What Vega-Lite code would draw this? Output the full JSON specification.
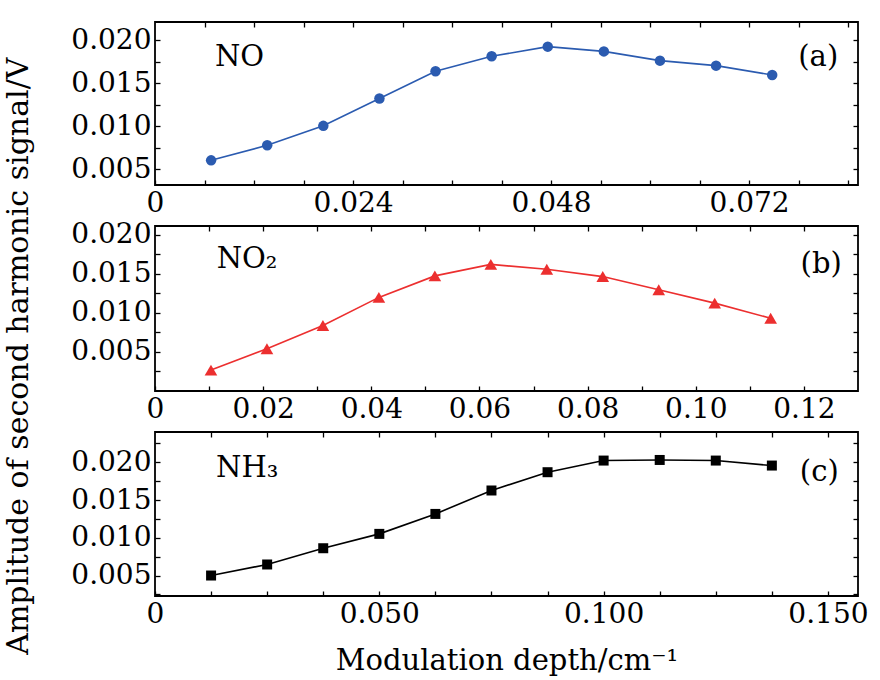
{
  "$schema": "https://vega.github.io/schema/vega-lite/v6.json",
  "background": "white",
  "padding": {"left": 3, "top": 20, "right": 2, "bottom": 2},
  "title": {
    "text": "Amplitude of second harmonic signal/V",
    "orient": "left",
    "anchor": "middle",
    "font": "DejaVu Serif",
    "fontSize": 30,
    "fontWeight": "normal",
    "color": "black",
    "offset": 36,
    "dx": -8
  },
  "spacing": 41,
  "bounds": "flush",
  "vconcat": [
    {
      "width": 703,
      "height": 163,
      "data": {"values": [
        {"depth": 0.0068, "amp": 0.00606},
        {"depth": 0.0136, "amp": 0.00780},
        {"depth": 0.0204, "amp": 0.01006},
        {"depth": 0.0272, "amp": 0.01323},
        {"depth": 0.0340, "amp": 0.01638},
        {"depth": 0.0408, "amp": 0.01812},
        {"depth": 0.0476, "amp": 0.01924},
        {"depth": 0.0544, "amp": 0.01869},
        {"depth": 0.0612, "amp": 0.01762},
        {"depth": 0.0680, "amp": 0.01704},
        {"depth": 0.0748, "amp": 0.01596}
      ]},
      "layer": [
        {
          "mark": {"type": "line", "color": "#2b5bb0", "strokeWidth": 1.6},
          "encoding": {
            "x": {"field": "depth", "type": "quantitative",
              "scale": {"domain": [0, 0.0852], "nice": false, "zero": false},
              "axis": {"orient": "bottom", "title": null,
                "values": [0, 0.006, 0.012, 0.018, 0.024, 0.030, 0.036, 0.042, 0.048, 0.054, 0.060, 0.066, 0.072, 0.078, 0.084],
                "labelExpr": "datum.value == 0 ? '0' : (abs(datum.value / 0.024 - round(datum.value / 0.024)) < 0.001 ? format(datum.value, '.3f') : '')"}},
            "y": {"field": "amp", "type": "quantitative",
              "scale": {"domain": [0.0032, 0.0221], "nice": false, "zero": false},
              "axis": {"orient": "left", "title": null,
                "values": [0.005, 0.0075, 0.01, 0.0125, 0.015, 0.0175, 0.02],
                "labelExpr": "abs(datum.value / 0.005 - round(datum.value / 0.005)) < 0.001 ? format(datum.value, '.3f') : ''"}}
          }
        },
        {
          "mark": {"type": "point", "shape": "circle", "filled": true, "size": 110, "color": "#2b5bb0", "opacity": 1},
          "encoding": {
            "x": {"field": "depth", "type": "quantitative",
              "axis": {"orient": "top", "title": null, "labels": false,
                "values": [0.006, 0.012, 0.018, 0.024, 0.030, 0.036, 0.042, 0.048, 0.054, 0.060, 0.066, 0.072, 0.078, 0.084]}},
            "y": {"field": "amp", "type": "quantitative",
              "axis": {"orient": "right", "title": null, "labels": false,
                "values": [0.005, 0.0075, 0.01, 0.0125, 0.015, 0.0175, 0.02]}}
          }
        },
        {
          "data": {"values": [{"label": "NO"}]},
          "mark": {"type": "text", "align": "left", "baseline": "alphabetic", "fontSize": 29, "font": "DejaVu Serif", "color": "black"},
          "encoding": {
            "x": {"datum": 0.00727, "type": "quantitative", "axis": null},
            "y": {"datum": 0.01704, "type": "quantitative", "axis": null},
            "text": {"field": "label"}
          }
        },
        {
          "data": {"values": [{"label": "(a)"}]},
          "mark": {"type": "text", "align": "right", "baseline": "alphabetic", "fontSize": 29, "font": "DejaVu Serif", "color": "black"},
          "encoding": {
            "x": {"datum": 0.0828, "type": "quantitative", "axis": null},
            "y": {"datum": 0.01704, "type": "quantitative", "axis": null},
            "text": {"field": "label"}
          }
        }
      ],
      "resolve": {"axis": {"x": "independent", "y": "independent"}}
    },
    {
      "width": 703,
      "height": 165,
      "data": {"values": [
        {"depth": 0.01035, "amp": 0.00267},
        {"depth": 0.02070, "amp": 0.00541},
        {"depth": 0.03105, "amp": 0.00838},
        {"depth": 0.04140, "amp": 0.01197},
        {"depth": 0.05175, "amp": 0.01472},
        {"depth": 0.06210, "amp": 0.01619},
        {"depth": 0.07245, "amp": 0.01556},
        {"depth": 0.08280, "amp": 0.01463},
        {"depth": 0.09315, "amp": 0.01294},
        {"depth": 0.10350, "amp": 0.01124},
        {"depth": 0.11385, "amp": 0.00930}
      ]},
      "layer": [
        {
          "mark": {"type": "line", "color": "#ec2f2f", "strokeWidth": 1.6},
          "encoding": {
            "x": {"field": "depth", "type": "quantitative",
              "scale": {"domain": [0, 0.13], "nice": false, "zero": false},
              "axis": {"orient": "bottom", "title": null,
                "values": [0, 0.01, 0.02, 0.03, 0.04, 0.05, 0.06, 0.07, 0.08, 0.09, 0.10, 0.11, 0.12],
                "labelExpr": "datum.value == 0 ? '0' : (abs(datum.value / 0.02 - round(datum.value / 0.02)) < 0.001 ? format(datum.value, '.2f') : '')"}},
            "y": {"field": "amp", "type": "quantitative",
              "scale": {"domain": [0, 0.0211], "nice": false, "zero": false},
              "axis": {"orient": "left", "title": null,
                "values": [0.0025, 0.005, 0.0075, 0.01, 0.0125, 0.015, 0.0175, 0.02],
                "labelExpr": "abs(datum.value / 0.005 - round(datum.value / 0.005)) < 0.001 ? format(datum.value, '.3f') : ''"}}
          }
        },
        {
          "mark": {"type": "point", "shape": "triangle-up", "filled": true, "size": 160, "color": "#ec2f2f", "opacity": 1},
          "encoding": {
            "x": {"field": "depth", "type": "quantitative",
              "axis": {"orient": "top", "title": null, "labels": false,
                "values": [0.01, 0.02, 0.03, 0.04, 0.05, 0.06, 0.07, 0.08, 0.09, 0.10, 0.11, 0.12]}},
            "y": {"field": "amp", "type": "quantitative",
              "axis": {"orient": "right", "title": null, "labels": false,
                "values": [0.0025, 0.005, 0.0075, 0.01, 0.0125, 0.015, 0.0175, 0.02]}}
          }
        },
        {
          "data": {"values": [{"label": "NO₂"}]},
          "mark": {"type": "text", "align": "left", "baseline": "alphabetic", "fontSize": 29, "font": "DejaVu Serif", "color": "black"},
          "encoding": {
            "x": {"datum": 0.0114, "type": "quantitative", "axis": null},
            "y": {"datum": 0.01577, "type": "quantitative", "axis": null},
            "text": {"field": "label"}
          }
        },
        {
          "data": {"values": [{"label": "(b)"}]},
          "mark": {"type": "text", "align": "right", "baseline": "alphabetic", "fontSize": 29, "font": "DejaVu Serif", "color": "black"},
          "encoding": {
            "x": {"datum": 0.127, "type": "quantitative", "axis": null},
            "y": {"datum": 0.01514, "type": "quantitative", "axis": null},
            "text": {"field": "label"}
          }
        }
      ],
      "resolve": {"axis": {"x": "independent", "y": "independent"}}
    },
    {
      "width": 703,
      "height": 164,
      "data": {"values": [
        {"depth": 0.0125, "amp": 0.00501},
        {"depth": 0.0250, "amp": 0.00647},
        {"depth": 0.0375, "amp": 0.00862},
        {"depth": 0.0500, "amp": 0.01052},
        {"depth": 0.0625, "amp": 0.01316},
        {"depth": 0.0750, "amp": 0.01626},
        {"depth": 0.0875, "amp": 0.01868},
        {"depth": 0.1000, "amp": 0.02022},
        {"depth": 0.1125, "amp": 0.02030},
        {"depth": 0.1250, "amp": 0.02022},
        {"depth": 0.1375, "amp": 0.01956}
      ]},
      "layer": [
        {
          "mark": {"type": "line", "color": "black", "strokeWidth": 1.6},
          "encoding": {
            "x": {"field": "depth", "type": "quantitative",
              "scale": {"domain": [0, 0.1567], "nice": false, "zero": false},
              "axis": {"orient": "bottom", "title": "Modulation depth/cm⁻¹", "titlePadding": 18,
                "values": [0, 0.0125, 0.025, 0.0375, 0.05, 0.0625, 0.075, 0.0875, 0.1, 0.1125, 0.125, 0.1375, 0.15],
                "labelExpr": "datum.value == 0 ? '0' : (abs(datum.value / 0.05 - round(datum.value / 0.05)) < 0.001 ? format(datum.value, '.3f') : '')"}},
            "y": {"field": "amp", "type": "quantitative",
              "scale": {"domain": [0.0023, 0.024], "nice": false, "zero": false},
              "axis": {"orient": "left", "title": null,
                "values": [0.0025, 0.005, 0.0075, 0.01, 0.0125, 0.015, 0.0175, 0.02, 0.0225],
                "labelExpr": "abs(datum.value / 0.005 - round(datum.value / 0.005)) < 0.001 ? format(datum.value, '.3f') : ''"}}
          }
        },
        {
          "mark": {"type": "point", "shape": "square", "filled": true, "size": 100, "color": "black", "opacity": 1},
          "encoding": {
            "x": {"field": "depth", "type": "quantitative",
              "axis": {"orient": "top", "title": null, "labels": false,
                "values": [0.0125, 0.025, 0.0375, 0.05, 0.0625, 0.075, 0.0875, 0.1, 0.1125, 0.125, 0.1375, 0.15]}},
            "y": {"field": "amp", "type": "quantitative",
              "axis": {"orient": "right", "title": null, "labels": false,
                "values": [0.0025, 0.005, 0.0075, 0.01, 0.0125, 0.015, 0.0175, 0.02, 0.0225]}}
          }
        },
        {
          "data": {"values": [{"label": "NH₃"}]},
          "mark": {"type": "text", "align": "left", "baseline": "alphabetic", "fontSize": 29, "font": "DejaVu Serif", "color": "black"},
          "encoding": {
            "x": {"datum": 0.01362, "type": "quantitative", "axis": null},
            "y": {"datum": 0.01802, "type": "quantitative", "axis": null},
            "text": {"field": "label"}
          }
        },
        {
          "data": {"values": [{"label": "(c)"}]},
          "mark": {"type": "text", "align": "right", "baseline": "alphabetic", "fontSize": 29, "font": "DejaVu Serif", "color": "black"},
          "encoding": {
            "x": {"datum": 0.1524, "type": "quantitative", "axis": null},
            "y": {"datum": 0.01758, "type": "quantitative", "axis": null},
            "text": {"field": "label"}
          }
        }
      ],
      "resolve": {"axis": {"x": "independent", "y": "independent"}}
    }
  ],
  "config": {
    "font": "DejaVu Serif",
    "view": {"stroke": "black", "strokeWidth": 1.8},
    "axis": {
      "domain": false,
      "grid": false,
      "ticks": true,
      "tickColor": "black",
      "tickWidth": 1.3,
      "tickSize": -5,
      "labelFont": "DejaVu Serif",
      "labelFontSize": 28,
      "labelColor": "black",
      "labelPadding": 9,
      "labelOverlap": false,
      "labelFlush": false,
      "titleFont": "DejaVu Serif",
      "titleFontSize": 29,
      "titleFontWeight": "normal",
      "titleColor": "black"
    }
  }
}
